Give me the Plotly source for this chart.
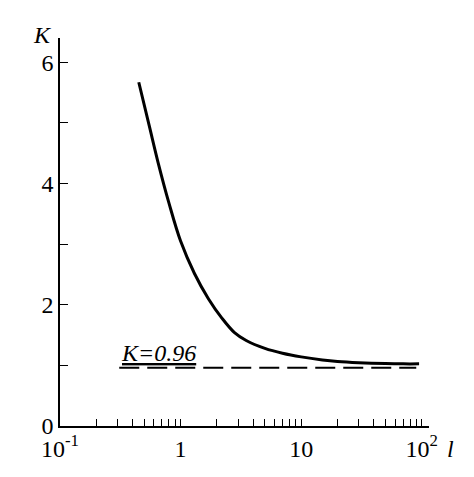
import plotly.graph_objects as go

l_vals = [0.45, 0.55, 0.65, 0.8, 1.0, 1.3, 1.7, 2.2, 2.8, 3.5, 5, 7, 10, 15, 20, 30, 50, 70, 95]
K_vals = [5.67, 4.95, 4.35, 3.68, 3.05, 2.52, 2.1, 1.78, 1.54, 1.41, 1.28, 1.2, 1.14, 1.09, 1.065, 1.045, 1.03, 1.025, 1.025]
K_inf = 0.96
dash_x = [0.31, 90]

x_major = [0.1, 1, 10, 100]
x_major_text = ["10<sup>-1</sup>", "1", "10", "10<sup>2</sup>"]
x_minor = [m * d for d in [0.1, 1, 10] for m in range(2, 10)]
y_vals = [0, 1, 2, 3, 4, 5, 6]
y_text = ["0", "", "2", "", "4", "", "6"]

font = dict(family="Liberation Serif, Times New Roman, serif", size=24, color="black")

fig = go.Figure()
fig.add_trace(go.Scatter(x=l_vals, y=K_vals, mode="lines", line=dict(color="black", width=3, shape="spline", smoothing=1.0)))
fig.add_trace(go.Scatter(x=dash_x, y=[K_inf, K_inf], mode="lines", line=dict(color="black", width=2, dash="20px,8px")))

fig.update_layout(
    width=474, height=477, showlegend=False,
    paper_bgcolor="white", plot_bgcolor="white",
    margin=dict(l=52, r=53, t=30, b=59),
    font=font,
    xaxis=dict(type="log", range=[-1, 2.06], showgrid=False, zeroline=False,
               showline=True, linecolor="black", linewidth=1.5,
               tickvals=x_major + x_minor,
               ticktext=x_major_text + [""] * len(x_minor),
               ticks="inside", ticklen=7, tickcolor="black", tickfont=font),
    yaxis=dict(range=[0, 6.4], showgrid=False, zeroline=False,
               showline=True, linecolor="black", linewidth=1.5,
               tickvals=y_vals, ticktext=y_text,
               ticks="inside", ticklen=8, tickcolor="black", tickfont=font),
    annotations=[
        dict(x=0, y=1, xref="paper", yref="paper", text="<i>K</i>", showarrow=False,
             xanchor="right", yanchor="bottom", xshift=-6, yshift=-12, font=font),
        dict(x=1, y=0, xref="paper", yref="paper", text="<i>l</i>", showarrow=False,
             xanchor="left", yanchor="top", xshift=16, yshift=-8, font=font),
        dict(x=-0.51, y=K_inf, xref="x", yref="y", text="<u><i>K=0.96</i></u>", showarrow=False,
             xanchor="left", yanchor="bottom", yshift=0, font=font),
    ],
)

fig.write_html("out.html")
